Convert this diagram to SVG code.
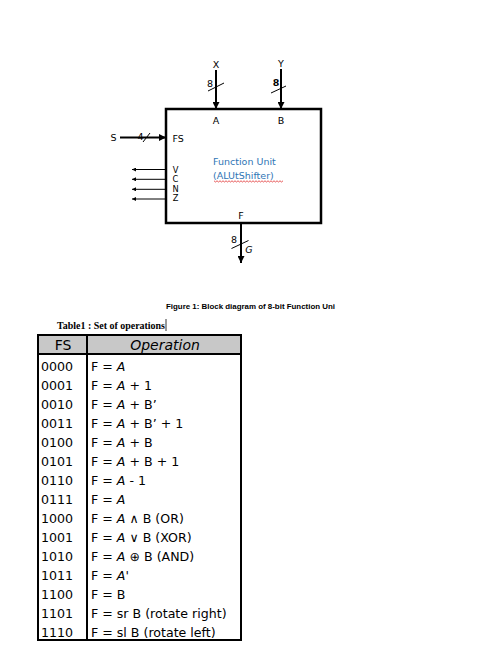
<svg xmlns="http://www.w3.org/2000/svg" width="482" height="651" viewBox="0 0 482 651">
<style>
  .lbl { font-family: "DejaVu Sans", "Liberation Sans", sans-serif; font-size: 9.5px; fill: #000; }
  .flag { font-family: "DejaVu Sans", "Liberation Sans", sans-serif; font-size: 8.3px; fill: #000; }
  .thick { stroke: #000; stroke-width: 2; fill: none; }
  .thin { stroke: #000; stroke-width: 1; fill: none; }
  .slash { stroke: #000; stroke-width: 1; fill: none; }
  .cell { font-family: "DejaVu Sans", "Liberation Sans", sans-serif; font-size: 12.6px; fill: #000; }
  .hdr { font-family: "DejaVu Sans", "Liberation Sans", sans-serif; font-size: 14px; fill: #000; }
  .it { font-style: italic; }
  .blue { font-family: "DejaVu Sans", "Liberation Sans", sans-serif; font-size: 9.5px; fill: #2f75b5; }
</style>
<defs>
  <marker id="arr" viewBox="0 0 8 8" refX="8" refY="4" markerWidth="7" markerHeight="7" markerUnits="userSpaceOnUse" orient="auto">
    <path d="M0,0 L8,4 L0,8 z" fill="#000"/>
  </marker>
  <marker id="arrs" viewBox="0 0 8 8" refX="8" refY="4" markerWidth="4" markerHeight="4" markerUnits="userSpaceOnUse" orient="auto">
    <path d="M0,0 L8,4 L0,8 z" fill="#000"/>
  </marker>
</defs>
<rect width="482" height="651" fill="#fff"/>

<g id="function-unit">
  <rect x="166" y="109" width="155" height="114" fill="#fff" stroke="#000" stroke-width="2.5"/>
  <text class="lbl" x="216" y="124" text-anchor="middle">A</text>
  <text class="lbl" x="281" y="124" text-anchor="middle">B</text>
  <text class="lbl" x="172.5" y="142">FS</text>
  <text class="flag" x="175.5" y="173.2" text-anchor="middle">V</text>
  <text class="flag" x="175.5" y="182.4" text-anchor="middle">C</text>
  <text class="flag" x="175.5" y="191.8" text-anchor="middle">N</text>
  <text class="flag" x="175.5" y="201.2" text-anchor="middle">Z</text>
  <text class="lbl" x="241" y="219" text-anchor="middle">F</text>
  <text class="blue" x="213" y="165">Function Unit</text>
  <text class="blue" x="213" y="178.5">(ALUtShifter)</text>
  <path d="M214,180.8 l1.5,1.2 l1.5,-1.2 l1.5,1.2 l1.5,-1.2 l1.5,1.2 l1.5,-1.2 l1.5,1.2 l1.5,-1.2 l1.5,1.2 l1.5,-1.2 l1.5,1.2 l1.5,-1.2 l1.5,1.2 l1.5,-1.2 l1.5,1.2 l1.5,-1.2 l1.5,1.2 l1.5,-1.2 l1.5,1.2 l1.5,-1.2 l1.5,1.2 l1.5,-1.2 l1.5,1.2 l1.5,-1.2 l1.5,1.2 l1.5,-1.2 l1.5,1.2 l1.5,-1.2 l1.5,1.2 l1.5,-1.2 l1.5,1.2 l1.5,-1.2 l1.5,1.2 l1.5,-1.2 l1.5,1.2 l1.5,-1.2 l1.5,1.2 l1.5,-1.2 l1.5,1.2 l1.5,-1.2 l1.5,1.2 l1.5,-1.2 l1.5,1.2 l1.5,-1.2 l1.5,1.2 l1.5,-1.2" stroke="#e03030" stroke-width="0.8" fill="none"/>
</g>

<g id="input-x">
  <text class="lbl" x="216" y="68" text-anchor="middle">X</text>
  <text class="lbl" x="210" y="87" text-anchor="middle">8</text>
</g>
<g id="input-y">
  <text class="lbl" x="281" y="67" text-anchor="middle">Y</text>
  <text class="lbl" x="276" y="86" text-anchor="middle" font-weight="bold">8</text>
</g>
<g id="input-s">
  <text class="lbl" x="113.5" y="140.5" text-anchor="middle">S</text>
  <text class="lbl" x="140.5" y="140" text-anchor="middle">4</text>
</g>
<g id="output-g">
  <text class="lbl" x="234" y="243" text-anchor="middle">8</text>
  <text class="lbl it" x="249" y="253" text-anchor="middle">G</text>
</g>

<g id="connectors">
  <line class="thick" x1="216" y1="70" x2="216" y2="109" marker-end="url(#arr)"/>
  <line class="slash" x1="208" y1="91" x2="224" y2="83"/>
  <line class="thick" x1="281" y1="69" x2="281" y2="109" marker-end="url(#arr)"/>
  <line class="slash" x1="271" y1="93" x2="286" y2="86"/>
  <line class="thick" x1="120" y1="137.5" x2="166" y2="137.5" marker-end="url(#arr)"/>
  <line class="slash" x1="143" y1="142" x2="150" y2="133"/>
  <line class="thin" x1="166" y1="169.5" x2="132" y2="169.5" marker-end="url(#arrs)"/>
  <line class="thin" x1="166" y1="179.3" x2="132" y2="179.3" marker-end="url(#arrs)"/>
  <line class="thin" x1="166" y1="189.3" x2="132" y2="189.3" marker-end="url(#arrs)"/>
  <line class="thin" x1="166" y1="199" x2="132" y2="199" marker-end="url(#arrs)"/>
  <line class="thick" x1="241" y1="223" x2="241" y2="263" marker-end="url(#arr)"/>
  <line class="slash" x1="231.5" y1="248.5" x2="248.5" y2="240.5"/>
</g>

<g id="caption">
  <text x="166" y="309" font-family="'Liberation Sans', Arial, sans-serif" font-size="7" font-weight="bold" textLength="169" lengthAdjust="spacingAndGlyphs">Figure 1: Block diagram of 8-bit Function Uni</text>
</g>

<g id="table-title">
  <text x="57" y="329" font-family="'Liberation Serif', 'Times New Roman', serif" font-size="10" font-weight="bold" textLength="108" lengthAdjust="spacingAndGlyphs">Table1 : Set of operations</text>
  <line x1="166" y1="319" x2="166" y2="331" stroke="#000" stroke-width="0.8"/>
</g>

<g id="table">
  <rect x="38" y="335" width="203" height="19" fill="#c8c8c8"/>
  <rect x="38" y="335" width="203" height="305" fill="none" stroke="#000" stroke-width="2"/>
  <line x1="38" y1="354" x2="241" y2="354" stroke="#000" stroke-width="2"/>
  <line x1="87" y1="335" x2="87" y2="640" stroke="#000" stroke-width="2"/>
  <text class="hdr" x="63" y="350" text-anchor="middle">FS</text>
  <text class="hdr it" x="165" y="350" text-anchor="middle">Operation</text>

  <text class="cell" x="41" y="371">0000</text>
  <text class="cell" x="41" y="390">0001</text>
  <text class="cell" x="41" y="409">0010</text>
  <text class="cell" x="41" y="428">0011</text>
  <text class="cell" x="41" y="447">0100</text>
  <text class="cell" x="41" y="466">0101</text>
  <text class="cell" x="41" y="485">0110</text>
  <text class="cell" x="41" y="504">0111</text>
  <text class="cell" x="41" y="523">1000</text>
  <text class="cell" x="41" y="542">1001</text>
  <text class="cell" x="41" y="561">1010</text>
  <text class="cell" x="41" y="580">1011</text>
  <text class="cell" x="41" y="599">1100</text>
  <text class="cell" x="41" y="618">1101</text>
  <text class="cell" x="41" y="636.5">1110</text>

  <text class="cell" x="91" y="371">F = <tspan class="it">A</tspan></text>
  <text class="cell" x="91" y="390">F = <tspan class="it">A</tspan> + 1</text>
  <text class="cell" x="91" y="409">F = <tspan class="it">A</tspan> + B’</text>
  <text class="cell" x="91" y="428">F = <tspan class="it">A</tspan> + B’ + 1</text>
  <text class="cell" x="91" y="447">F = <tspan class="it">A</tspan> + B</text>
  <text class="cell" x="91" y="466">F = <tspan class="it">A</tspan> + B + 1</text>
  <text class="cell" x="91" y="485">F = <tspan class="it">A</tspan> - 1</text>
  <text class="cell" x="91" y="504">F = <tspan class="it">A</tspan></text>
  <text class="cell" x="91" y="523">F = <tspan class="it">A</tspan> ∧ B (OR)</text>
  <text class="cell" x="91" y="542">F = <tspan class="it">A</tspan> ∨ B (XOR)</text>
  <text class="cell" x="91" y="561">F = <tspan class="it">A</tspan> ⊕ B (AND)</text>
  <text class="cell" x="91" y="580">F = <tspan class="it">A</tspan>'</text>
  <text class="cell" x="91" y="599">F = B</text>
  <text class="cell" x="91" y="618">F = sr B (rotate right)</text>
  <text class="cell" x="91" y="636.5">F = sl B (rotate left)</text>
</g>
</svg>
